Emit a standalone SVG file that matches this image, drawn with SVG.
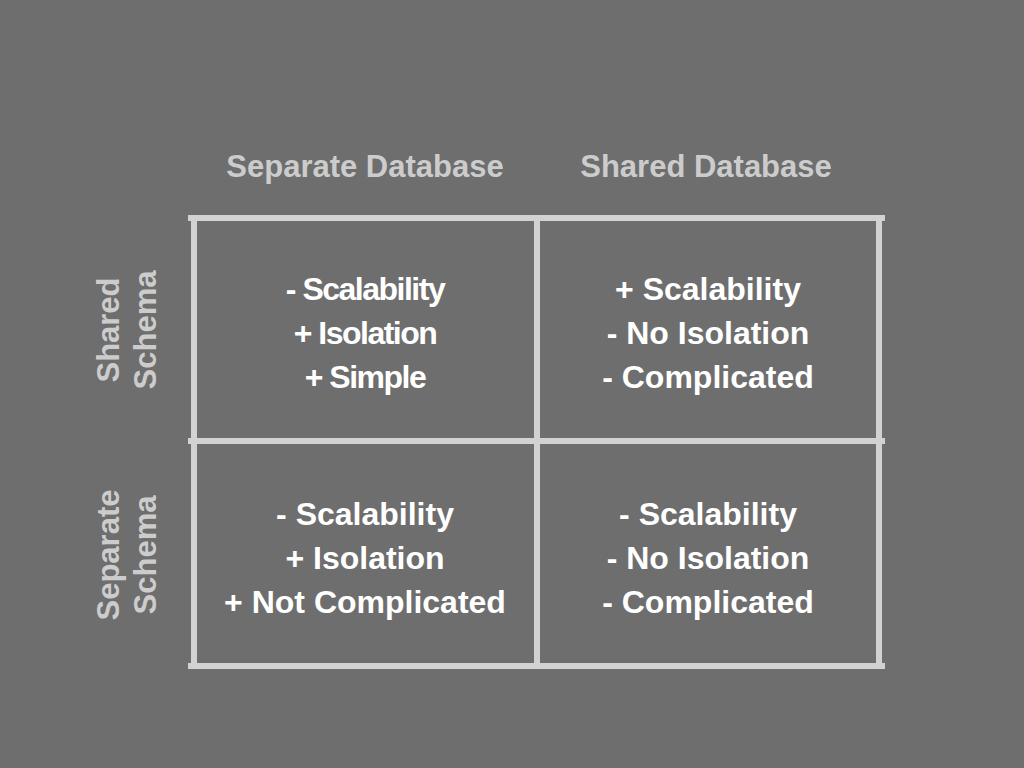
<svg xmlns="http://www.w3.org/2000/svg" width="1024" height="768" viewBox="0 0 1024 768">
<style>
.h{font-family:"Liberation Sans",Arial,sans-serif;font-weight:bold;font-size:31px;fill:#cccccc;text-anchor:middle}
.c{font-family:"Liberation Sans",Arial,sans-serif;font-weight:bold;font-size:32px;fill:#ffffff;text-anchor:middle}
.t{letter-spacing:-1.5px}
.g{stroke:#d2d2d2;stroke-width:6;fill:none}
</style>
<rect width="1024" height="768" fill="#6e6e6e"/>
<g id="headers">
<text class="h" x="365" y="177">Separate Database</text>
<text class="h" x="706" y="177">Shared Database</text>
<text class="h" transform="translate(119,330) rotate(-90)">Shared</text>
<text class="h" transform="translate(156,330) rotate(-90)">Schema</text>
<text class="h" transform="translate(119,555) rotate(-90)">Separate</text>
<text class="h" transform="translate(156,555) rotate(-90)">Schema</text>
</g>
<g id="grid">
<path class="g" d="M188 218H885M188 441H885M188 666H885M194 218V666M537 218V666M879 218V666"/>
</g>
<g id="cell-tl" class="c t">
<text x="365" y="300">- Scalability</text>
<text x="365" y="344">+ Isolation</text>
<text x="365" y="388">+ Simple</text>
</g>
<g id="cell-tr" class="c">
<text x="708" y="300">+ Scalability</text>
<text x="708" y="344">- No Isolation</text>
<text x="708" y="388">- Complicated</text>
</g>
<g id="cell-bl" class="c">
<text x="365" y="525">- Scalability</text>
<text x="365" y="569">+ Isolation</text>
<text x="365" y="613">+ Not Complicated</text>
</g>
<g id="cell-br" class="c">
<text x="708" y="525">- Scalability</text>
<text x="708" y="569">- No Isolation</text>
<text x="708" y="613">- Complicated</text>
</g>
</svg>
